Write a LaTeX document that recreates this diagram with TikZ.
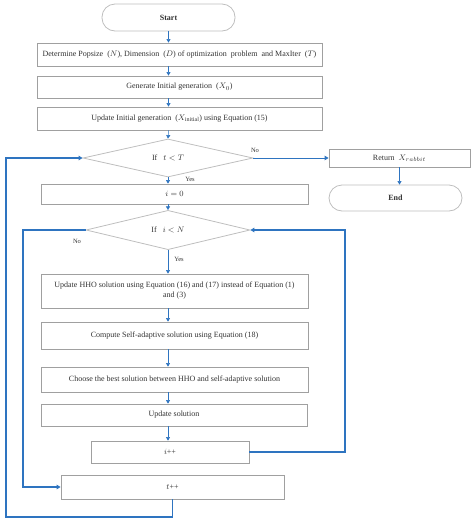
\documentclass[tikz,border=0pt]{standalone}
\usepackage{fontspec}
\setmainfont{Liberation Serif}
\usetikzlibrary{shapes.geometric,arrows.meta}
\definecolor{lineblue}{RGB}{46,116,192}
\definecolor{boxgray}{RGB}{160,160,160}
\definecolor{dgray}{RGB}{190,190,190}
\definecolor{txt}{RGB}{50,50,50}
\begin{document}
\begin{tikzpicture}[x=1pt,y=-1pt,
  every node/.style={font=\fontsize{8}{10}\selectfont, text=txt},
  pbox/.style={draw=boxgray, line width=0.8pt, rectangle, inner sep=0pt, align=center},
  term/.style={draw=dgray, line width=0.8pt, rectangle, rounded corners=13pt, inner sep=0pt, font=\fontsize{8}{10}\selectfont\bfseries},
  dec/.style={draw=dgray, line width=0.8pt, diamond, inner sep=0pt},
  arr/.style={draw=lineblue, line width=0.5pt, -{Triangle[length=3.5pt,width=4pt]}},
  loop/.style={draw=lineblue, line width=1.1pt, -{Triangle[length=4pt,width=4.5pt]}},
  lbl/.style={font=\fontsize{6.5}{8}\selectfont}]
\useasboundingbox (0,0) rectangle (474,523);
\node[term, minimum width=133pt, minimum height=27pt] (start) at (168.5,17.5) {Start};
\node[pbox, minimum width=285pt, minimum height=23pt] (b1) at (179.5,54.5) {Determine Popsize \ ($N$), Dimension \ ($D$) of optimization \ problem \ and MaxIter \ ($T$)};
\node[pbox, minimum width=285pt, minimum height=22pt] (b2) at (179.5,87) {Generate Initial generation \ ($X_0$)};
\node[pbox, minimum width=285pt, minimum height=23pt] (b3) at (179.5,118.5) {Update Initial generation \ ($X_{\mathrm{initial}}$) using Equation (15)};
\node[dec, minimum width=170pt, minimum height=36pt] (d1) at (168,158) {If \ \ $t<T$};
\node[pbox, minimum width=141pt, minimum height=18pt] (ret) at (399.5,158) {Return \ $X_{rabbit}$};
\node[term, minimum width=133pt, minimum height=26pt] (end) at (395.5,198) {End};
\node[pbox, minimum width=267pt, minimum height=20pt] (b4) at (174.5,194) {$i=0$};
\node[dec, minimum width=164pt, minimum height=36pt] (d2) at (168,230) {If \ \ $i<N$};
\node[pbox, minimum width=267pt, minimum height=34pt] (b5) at (174.5,291) {Update HHO solution using Equation (16) and (17) instead of Equation (1)\\ and (3)};
\node[pbox, minimum width=267pt, minimum height=27pt] (b6) at (174.5,335.5) {Compute Self-adaptive solution using Equation (18)};
\node[pbox, minimum width=267pt, minimum height=25pt] (b7) at (174.5,379.5) {Choose the best solution between HHO and self-adaptive solution};
\node[pbox, minimum width=266pt, minimum height=22pt] (b8) at (174,415) {Update solution};
\node[pbox, minimum width=158pt, minimum height=22pt] (ipp) at (170,452) {$i$++};
\node[pbox, minimum width=223pt, minimum height=24pt] (tpp) at (172.5,487) {$t$++};
\coordinate (o1) at (6,517);
\coordinate (c2) at (345,230);
\coordinate (c3) at (23,487);
% straight arrows
\draw[arr] (start.south) -- (start.south |- b1.north);
\draw[arr] (b1.south -| start.south) -- (b2.north -| start.south);
\draw[arr] (b2.south -| start.south) -- (b3.north -| start.south);
\draw[arr] (b3.south -| start.south) -- (d1.north);
\draw[arr] (d1.south) -- (d1.south |- b4.north);
\draw[arr] (b4.south -| d2.north) -- (d2.north);
\draw[arr] (d2.south) -- (d2.south |- b5.north);
\draw[arr] (b5.south -| d2.south) -- (b6.north -| d2.south);
\draw[arr] (b6.south -| d2.south) -- (b7.north -| d2.south);
\draw[arr] (b7.south -| d2.south) -- (b8.north -| d2.south);
\draw[arr] (b8.south -| d2.south) -- (ipp.north -| d2.south);
\draw[arr] (ret.south) -- (ret.south |- end.north);
\draw[loop, line width=0.9pt] (d1.east) -- (ret.west);
% loops
\draw[loop] (tpp.south) |- (o1) |- (d1.west);
\draw[loop] (ipp.east) -| (c2) -- (d2.east);
\draw[loop] (d2.west) -| (c3) -- (tpp.west);
% labels
\node[lbl] (no1) at (255,150) {No};
\node[lbl] (yes1) at (190,179) {Yes};
\node[lbl] (no2) at (77,241) {No};
\node[lbl] (yes2) at (179,259) {Yes};
\end{tikzpicture}
\end{document}
